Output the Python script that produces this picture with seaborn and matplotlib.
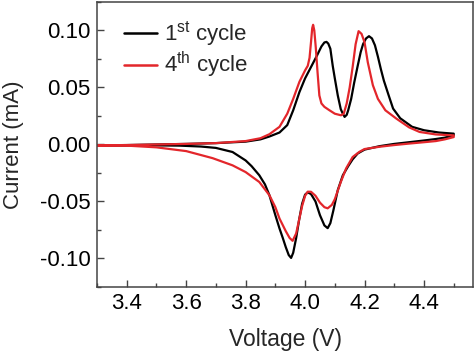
import numpy as np
import pandas as pd
import matplotlib
matplotlib.use("Agg")
import matplotlib.pyplot as plt
from matplotlib.ticker import MultipleLocator, FormatStrFormatter
import seaborn as sns

# ---- data ----
# 1st cycle: anodic sweep (3.3 -> 4.5 V) then cathodic sweep (4.5 -> 3.3 V)
v1_anodic = [3.30, 3.40, 3.50, 3.60, 3.70, 3.80, 3.85, 3.88, 3.914, 3.94, 3.96, 3.981,
             4.00, 4.02, 4.04, 4.055, 4.065, 4.072, 4.078, 4.085, 4.093, 4.10, 4.11,
             4.12, 4.127, 4.133, 4.14, 4.145, 4.155, 4.165, 4.177, 4.187, 4.195, 4.205,
             4.215, 4.225, 4.235, 4.245, 4.255, 4.265, 4.28, 4.296, 4.32, 4.36, 4.40,
             4.45, 4.50]
i1_anodic = [-0.0008, -0.0005, 0.0000, 0.0005, 0.0012, 0.0025, 0.0045, 0.0070, 0.0105,
             0.0170, 0.0300, 0.0460, 0.0580, 0.0680, 0.0780, 0.0860, 0.0895, 0.0900,
             0.0885, 0.0840, 0.0690, 0.0580, 0.0430, 0.0310, 0.0270, 0.0242, 0.0260,
             0.0300, 0.0400, 0.0540, 0.0690, 0.0810, 0.0880, 0.0930, 0.0950, 0.0930,
             0.0870, 0.0770, 0.0660, 0.0560, 0.0440, 0.0315, 0.0230, 0.0155, 0.0125,
             0.0105, 0.0095]
v1_cathodic = [4.50, 4.47, 4.44, 4.40, 4.35, 4.30, 4.25, 4.20, 4.177, 4.16, 4.145,
               4.127, 4.11, 4.095, 4.085, 4.076, 4.065, 4.05, 4.035, 4.02, 4.009, 4.00,
               3.99, 3.98, 3.97, 3.96, 3.953, 3.945, 3.935, 3.925, 3.914, 3.90, 3.88,
               3.865, 3.846, 3.82, 3.80, 3.756, 3.70, 3.65, 3.577, 3.50, 3.40, 3.30]
i1_cathodic = [0.0080, 0.0060, 0.0048, 0.0035, 0.0020, 0.0005, -0.0015, -0.0045,
               -0.0079, -0.0130, -0.0190, -0.0270, -0.0400, -0.0580, -0.0690, -0.0734,
               -0.0710, -0.0620, -0.0500, -0.0435, -0.0420, -0.0440, -0.0520, -0.0660,
               -0.0820, -0.0950, -0.0995, -0.0970, -0.0900, -0.0820, -0.0737, -0.0620,
               -0.0445, -0.0350, -0.0270, -0.0190, -0.0140, -0.0066, -0.0030, -0.0018,
               -0.0010, -0.0008, -0.0008, -0.0008]

# 4th cycle
v4_anodic = [3.30, 3.40, 3.50, 3.60, 3.70, 3.80, 3.85, 3.88, 3.914, 3.94, 3.96, 3.981,
             4.00, 4.009, 4.015, 4.02, 4.024, 4.027, 4.031, 4.036, 4.042, 4.048, 4.055,
             4.065, 4.082, 4.10, 4.121, 4.13, 4.14, 4.15, 4.16, 4.17, 4.18, 4.19, 4.20,
             4.211, 4.228, 4.245, 4.27, 4.307, 4.35, 4.385, 4.44, 4.50]
i4_anodic = [-0.0008, -0.0005, 0.0000, 0.0005, 0.0012, 0.0030, 0.0055, 0.0090, 0.0155,
             0.0270, 0.0400, 0.0550, 0.0650, 0.0690, 0.0760, 0.0900, 0.1020, 0.1050,
             0.1000, 0.0850, 0.0630, 0.0430, 0.0360, 0.0330, 0.0300, 0.0270, 0.0256,
             0.0270, 0.0360, 0.0500, 0.0680, 0.0880, 0.0994, 0.0970, 0.0897, 0.0720,
             0.0520, 0.0400, 0.0300, 0.0227, 0.0150, 0.0110, 0.0088, 0.0080]
v4_cathodic = [4.50, 4.47, 4.44, 4.40, 4.35, 4.30, 4.25, 4.20, 4.183, 4.16, 4.138,
               4.12, 4.10, 4.09, 4.076, 4.065, 4.05, 4.035, 4.02, 4.009, 4.00, 3.99,
               3.98, 3.97, 3.958, 3.948, 3.935, 3.914, 3.90, 3.88, 3.846, 3.80, 3.756,
               3.689, 3.60, 3.50, 3.40, 3.30]
i4_cathodic = [0.0065, 0.0045, 0.0030, 0.0020, 0.0008, -0.0005, -0.0020, -0.0040,
               -0.0064, -0.0110, -0.0210, -0.0330, -0.0480, -0.0530, -0.0560, -0.0550,
               -0.0510, -0.0450, -0.0415, -0.0414, -0.0450, -0.0540, -0.0660, -0.0780,
               -0.0845, -0.0820, -0.0760, -0.0650, -0.0550, -0.0445, -0.0329, -0.0242,
               -0.0183, -0.0120, -0.0058, -0.0025, -0.0010, -0.0008]

cycle_labels = ["1$^{st}$ cycle", "4$^{th}$ cycle"]
colors = ["#000000", "#e3262b"]

frames = []
for lab, va, ia, vc, ic in [
    (cycle_labels[0], v1_anodic, i1_anodic, v1_cathodic, i1_cathodic),
    (cycle_labels[1], v4_anodic, i4_anodic, v4_cathodic, i4_cathodic),
]:
    v = list(va) + list(vc)
    i = list(ia) + list(ic)
    frames.append(pd.DataFrame({"Voltage": v, "Current": i, "cycle": lab}))
df = pd.concat(frames, ignore_index=True)

# ---- style ----
sns.set_style("ticks")
plt.rcParams["font.family"] = ["Liberation Sans", "DejaVu Sans"]
plt.rcParams["mathtext.default"] = "regular"
plt.rcParams["axes.unicode_minus"] = False

fig = plt.figure(figsize=(4.74, 3.54), dpi=100)
ax = fig.add_axes([0.2046, 0.1893, 0.7934, 0.8051])

sns.lineplot(data=df, x="Voltage", y="Current", hue="cycle", sort=False,
             estimator=None, units="cycle", palette=colors, linewidth=1.6, ax=ax,
             hue_order=cycle_labels)

ax.set_xlim(3.3, 4.565)
ax.set_ylim(-0.125, 0.125)
ax.xaxis.set_major_locator(MultipleLocator(0.2))
ax.xaxis.set_minor_locator(MultipleLocator(0.1))
ax.yaxis.set_major_locator(MultipleLocator(0.05))
ax.yaxis.set_minor_locator(MultipleLocator(0.025))
ax.xaxis.set_major_formatter(FormatStrFormatter("%.1f"))
ax.yaxis.set_major_formatter(FormatStrFormatter("%.2f"))

ax.tick_params(which="both", direction="in", top=False, right=False,
               labelsize=16, colors="#444444", labelcolor="black")
ax.tick_params(axis="x", which="major", length=5, width=1, pad=4)
ax.tick_params(axis="y", which="major", length=5, width=1, pad=4.5)
ax.tick_params(which="minor", length=3, width=1)

for s in ax.spines.values():
    s.set_visible(True)
    s.set_color("#444444")
    s.set_linewidth(1.1)

ax.set_xlabel("Voltage (V)", fontsize=16.5)
ax.set_ylabel("Current (mA)", fontsize=16)
ax.xaxis.set_label_coords(0.5, -0.145)
ax.yaxis.set_label_coords(-0.195, 0.5)

leg = ax.legend(loc="upper left", bbox_to_anchor=(0.0718, 0.94), frameon=False,
                fontsize=16, handlelength=1.5, handletextpad=0.3,
                labelspacing=0.1, borderpad=0, borderaxespad=0)
for h in leg.get_lines():
    h.set_linewidth(1.8)

fig.savefig("out.png", dpi=100)
